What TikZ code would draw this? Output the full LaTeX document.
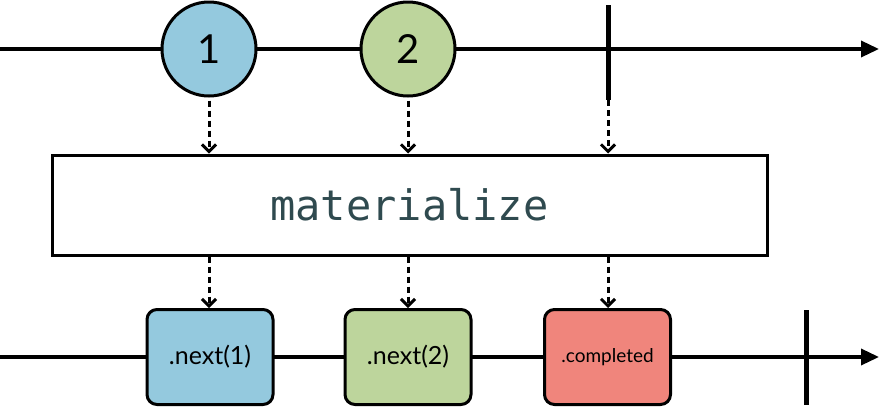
\documentclass[tikz,border=0pt]{standalone}
\usepackage{fontspec}
\setmainfont{Lato}
\setmonofont{DejaVu Sans Mono}
\usetikzlibrary{arrows.meta}
\definecolor{cblue}{HTML}{94C9DE}
\definecolor{cgreen}{HTML}{BDD59C}
\definecolor{cred}{HTML}{F0857C}
\definecolor{ctext}{HTML}{2F4A4F}
\begin{document}
\begin{tikzpicture}[x=1pt,y=-1pt,
  line/.style={line width=3.5pt,-{Triangle[length=18pt,width=16pt]}},
  marble/.style={circle,draw,line width=3pt,minimum size=94pt,inner sep=0pt,font=\fontsize{40}{40}\selectfont},
  evbox/.style={rounded corners=10pt,draw,line width=3pt,minimum width=126pt,minimum height=95pt,inner sep=0pt,font=\fontsize{25}{27}\selectfont},
  dashar/.style={line width=3pt,dash pattern=on 6pt off 4pt,-{Straight Barb[length=7pt,width=14pt]}},
  tick/.style={line width=5pt}]
\useasboundingbox (0,0) rectangle (879,410);
\coordinate (ts) at (0,49); \coordinate (te) at (879,49);
\draw[line] (ts) -- (te);
\coordinate (bs) at (0,357); \coordinate (be) at (879,357);
\draw[line] (bs) -- (be);
\node[marble,fill=cblue] (m1) at (209,49) {1};
\node[marble,fill=cgreen] (m2) at (408,49) {2};
\coordinate (t1a) at (608,5); \coordinate (t1b) at (608,100);
\draw[tick] (t1a) -- (t1b);
\node[draw,line width=3pt,minimum width=715pt,minimum height=100pt,inner sep=0pt,font=\ttfamily\fontsize{42}{42}\selectfont,text=ctext] (op) at (409.5,205) {materialize};
\node[evbox,fill=cblue] (e1) at (210,357) {.next(1)};
\node[evbox,fill=cgreen] (e2) at (408,357) {.next(2)};
\node[evbox,fill=cred,font=\fontsize{19}{21}\selectfont] (e3) at (607.5,357) {.completed};
\coordinate (t2a) at (806,310); \coordinate (t2b) at (806,405);
\draw[tick] (t2a) -- (t2b);
\draw[dashar] (m1.south) ++(0,3) -- (m1.south |- op.north);
\draw[dashar] (m2.south) ++(0,3) -- (m2.south |- op.north);
\draw[dashar] (t1b) -- (t1b |- op.north);
\draw[dashar] (op.south -| m1.south) -- (e1.north -| m1.south);
\draw[dashar] (op.south -| m2.south) -- (e2.north -| m2.south);
\draw[dashar] (op.south -| t1b) -- (e3.north -| t1b);
\end{tikzpicture}
\end{document}
